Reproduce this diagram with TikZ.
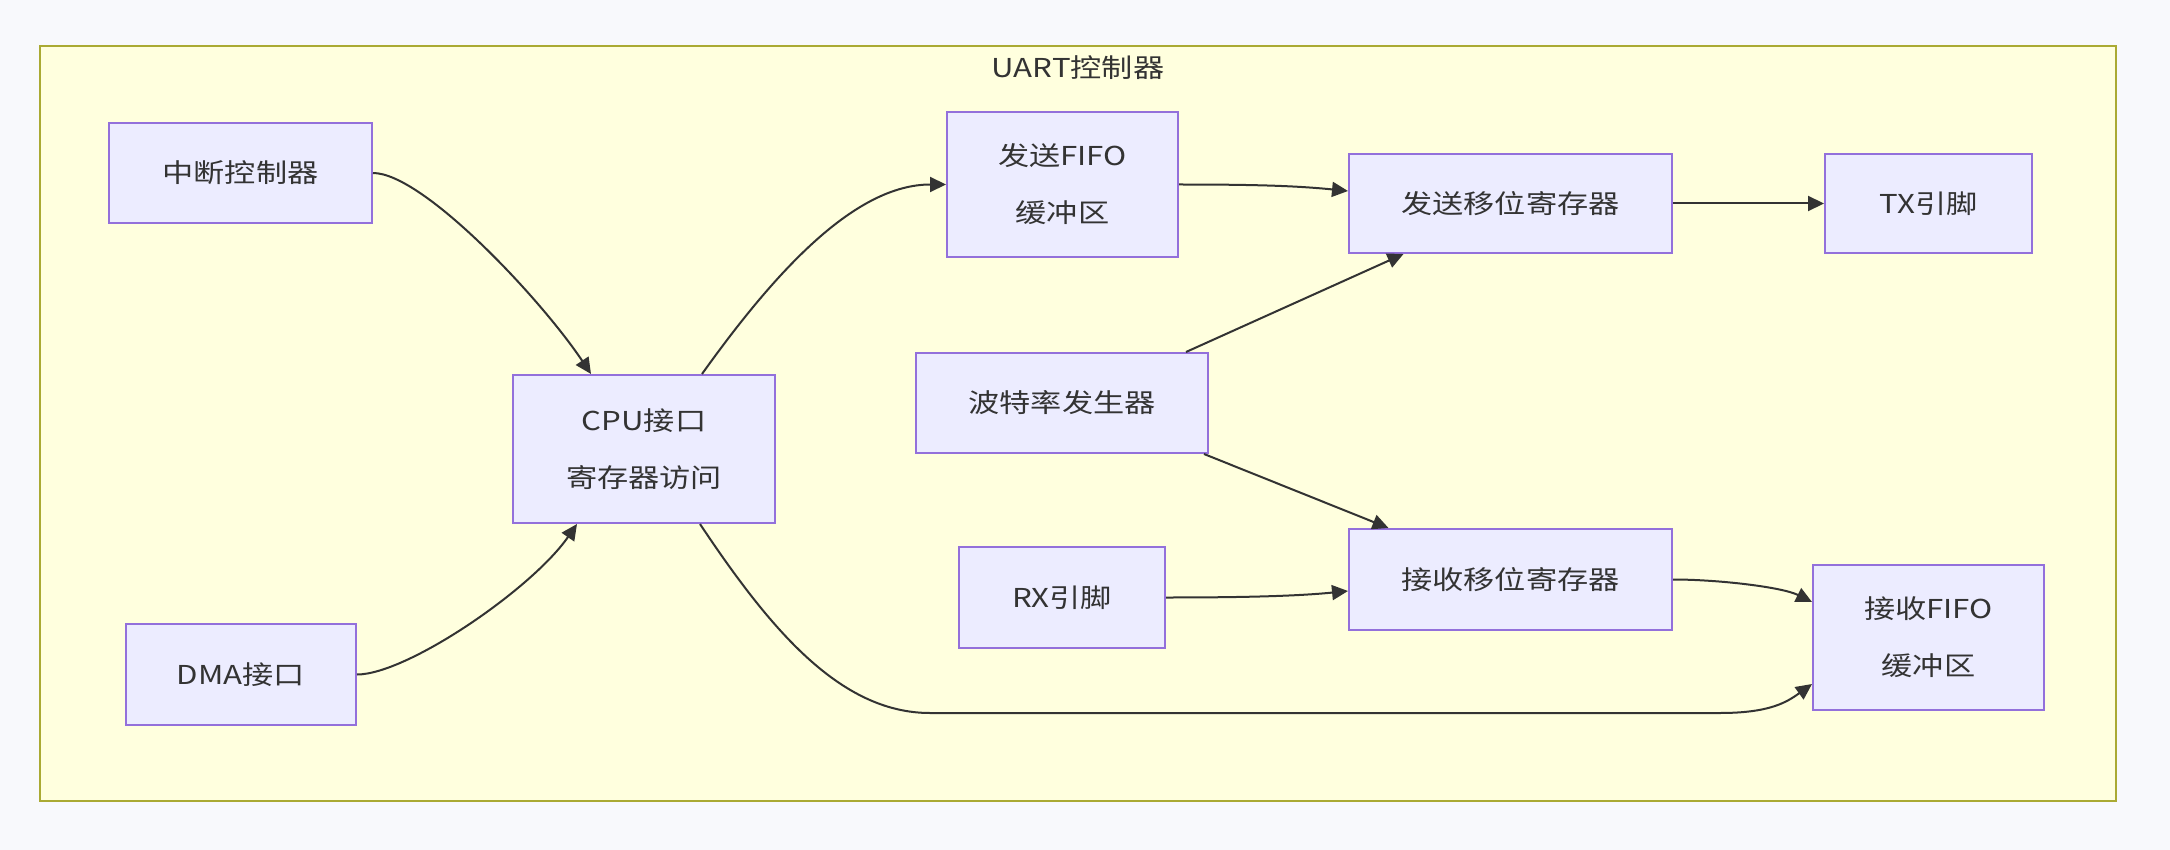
\documentclass[tikz,border=0pt]{standalone}
\usepackage{fontspec}
\setmainfont[FakeStretch=1.2]{Noto Sans CJK SC}
\usetikzlibrary{arrows.meta,calc}
\definecolor{pagebg}{HTML}{F8F9FC}
\definecolor{groupfill}{HTML}{FFFFDE}
\definecolor{groupline}{HTML}{AAAA33}
\definecolor{boxfill}{HTML}{ECECFF}
\definecolor{boxline}{HTML}{9370DB}
\definecolor{ink}{HTML}{333333}
\tikzset{
  box/.style={draw=boxline, fill=boxfill, line width=2pt, rectangle, inner sep=0pt,
    align=center, text=ink, font=\fontsize{26pt}{57pt}\selectfont},
  link/.style={draw=ink, line width=2pt, -{Triangle[length=16pt,width=15pt]}},
}
\begin{document}
\begin{tikzpicture}[x=1pt,y=-1pt]
\fill[pagebg] (0,0) rectangle (2170,850);
\useasboundingbox (0,0) rectangle (2170,850);

% controller frame
\draw[groupline, fill=groupfill, line width=2pt] (40,46) rectangle (2116,801);
\node[text=ink, font=\fontsize{26pt}{30pt}\selectfont] (title) at (1078,68) {UART控制器};

% blocks
\node[box, minimum width=263pt, minimum height=100pt] (irq)  at (240.5,173)  {中断控制器};
\node[box, minimum width=262pt, minimum height=148pt] (cpu)  at (644,449)    {CPU接口\\寄存器访问};
\node[box, minimum width=230pt, minimum height=101pt] (dma)  at (241,674.5)  {DMA接口};
\node[box, minimum width=231pt, minimum height=145pt] (txf)  at (1062.5,184.5) {发送FIFO\\缓冲区};
\node[box, minimum width=323pt, minimum height=99pt]  (txs)  at (1510.5,203.5) {发送移位寄存器};
\node[box, minimum width=207pt, minimum height=99pt]  (txp)  at (1928.5,203.5) {TX引脚};
\node[box, minimum width=292pt, minimum height=100pt] (baud) at (1062,403)   {波特率发生器};
\node[box, minimum width=206pt, minimum height=101pt] (rxp)  at (1062,597.5) {RX引脚};
\node[box, minimum width=323pt, minimum height=101pt] (rxs)  at (1510.5,579.5) {接收移位寄存器};
\node[box, minimum width=231pt, minimum height=145pt] (rxf)  at (1928.5,637.5) {接收FIFO\\缓冲区};

% bend points of the long return path
\coordinate (lowL) at (930,713);
\coordinate (lowR) at (1720,713);

% connectors
\draw[link] (irq.east) .. controls +(50,0) and +(-50,-75) .. ([xshift=-53pt]cpu.north);
\draw[link] (dma.east) .. controls +(50,0) and +(-45,65) .. ([xshift=-67pt]cpu.south);
\draw[link] ([xshift=58pt]cpu.north) .. controls +(75,-105) and +(-90,0) .. (txf.west);
\draw[link] ([xshift=56pt]cpu.south) .. controls +(70,105) and +(-90,0) .. (lowL)
  -- (lowR) .. controls +(50,0) and +(-25,18) .. ([yshift=-46.5pt]rxf.west);
\draw[link] (txf.east) .. controls +(80,0) and +(-50,-5) .. ([yshift=12.5pt]txs.west);
\draw[link] (txs.east) -- (txp.west);
\draw[link] ([xshift=124pt]baud.north) -- ([xshift=-107pt]txs.south);
\draw[link] ([xshift=142pt]baud.south) -- ([xshift=-122pt]rxs.north);
\draw[link] (rxp.east) .. controls +(80,0) and +(-50,5) .. ([yshift=-11.5pt]rxs.west);
\draw[link] (rxs.east) .. controls +(45,0) and +(-30,-15) .. ([yshift=35.5pt]rxf.west);
\end{tikzpicture}
\end{document}
